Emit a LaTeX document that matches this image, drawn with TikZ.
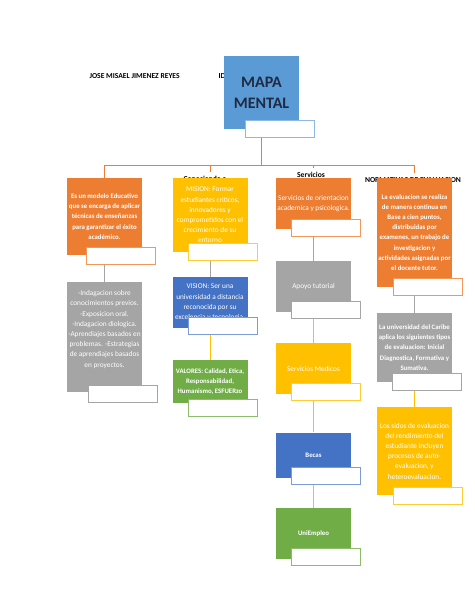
\documentclass[tikz,border=0pt]{standalone}
\usepackage{fontspec}
\setmainfont{Carlito}
\usetikzlibrary{positioning}
\definecolor{mporange}{HTML}{ED7D31}
\definecolor{mpyellow}{HTML}{FFC000}
\definecolor{mpblue}{HTML}{4472C4}
\definecolor{mpsky}{HTML}{5B9BD5}
\definecolor{mpgray}{HTML}{A5A5A5}
\definecolor{mpgreen}{HTML}{70AD47}
\definecolor{mpnavy}{HTML}{1F2A44}

\begin{document}
\begin{tikzpicture}[
  x=1pt, y=-1pt,
  box/.style={minimum width=75pt, inner sep=0pt, align=center, text=white, font=\fontsize{7.3}{10.2}\selectfont},
  bbox/.style={box, font=\fontsize{6.8}{10.2}\selectfont\bfseries},
  note/.style={draw, fill=white, line width=0.8pt, minimum width=69pt, minimum height=17pt, inner sep=0pt, anchor=north west},
  head/.style={anchor=base, font=\fontsize{7.6}{9}\selectfont\bfseries},
  olink/.style={draw=mporange, line width=0.8pt},
  glink/.style={draw=mpgray, line width=0.8pt},
  ylink/.style={draw=mpyellow, line width=0.8pt}
]
  \useasboundingbox[fill=white] (0,0) rectangle (474,613);

  % header
  \node[head, anchor=base west] (autor) at (86,78) {JOSE MISAEL JIMENEZ REYES};
  \node[head, anchor=base west] (ident) at (215,78) {ID};
  \node[fill=mpsky, minimum width=75pt, minimum height=73pt, align=center, text=mpnavy,
    font=\fontsize{16}{21}\selectfont\bfseries] (mapa) at (261.5,92.5) {MAPA\\MENTAL};
  \node[note, draw=mpsky!70] (mapan) at ([xshift=21pt,yshift=9pt]mapa.south west) {};

  % column titles
  \node[head] (tconoc) at (205,181) {Conociendo a};
  \node[head] (tserv) at (311,177) {Servicios};
  \node[head] (tnorm) at (413,182) {NORMATIVAS DE EVALUACION};

  % column 1
  \node[bbox, fill=mporange, minimum height=77pt] (modelo) at (104.5,216.5)
    {Es un modelo Educativo\\que se encarga de aplicar\\técnicas de enseñanzas\\para garantizar el éxito\\académico.};
  \node[note, draw=mporange!80] (modelon) at ([xshift=19pt,yshift=8pt]modelo.south west) {};
  \node[box, fill=mpgray, minimum height=110pt] (indaga) at (104.5,337)
    {-Indagacion sobre\\conocimientos previos.\\-Exposicion oral.\\-Indagacion diologica.\\-Aprendiajes basados en\\problemas. -Estrategias\\de aprendiajes basados\\en proyectos.\\[6pt]};
  \node[note, draw=mpgray] (indagan) at ([xshift=21pt,yshift=7pt]indaga.south west) {};

  % column 2
  \node[box, fill=mpyellow, minimum height=74pt] (mision) at (210,215)
    {MISION: Formar\\estudiantes criticos,\\innovadores y\\comprometidos con el\\crecimiento de su\\entorno};
  \node[note, draw=mpyellow!80] (misionn) at ([xshift=16pt,yshift=9pt]mision.south west) {};
  \node[box, fill=mpblue, minimum height=51pt] (vision) at (210,302.5)
    {VISION: Ser una\\universidad a distancia\\reconocida por su\\excelencia y tecnologia.};
  \node[note, draw=mpblue!70] (visionn) at ([xshift=16pt,yshift=11pt]vision.south west) {};
  \node[bbox, fill=mpgreen, minimum height=43pt] (valores) at (210,381.5)
    {VALORES: Calidad, Etica,\\Responsabilidad,\\Humanismo, ESFUERzo};
  \node[note, draw=mpgreen!80] (valoresn) at ([xshift=16pt,yshift=4pt]valores.south west) {};

  % column 3
  \node[box, fill=mporange, minimum height=51pt] (orienta) at (313.5,203.5)
    {Servicios de orientacion\\academica y psicologica.};
  \node[note, draw=mporange!80] (orientan) at ([xshift=15pt,yshift=10pt]orienta.south west) {};
  \node[box, fill=mpgray, minimum height=51pt] (apoyo) at (313.5,286.5) {Apoyo tutorial};
  \node[note, draw=mpgray] (apoyon) at ([xshift=15pt,yshift=11pt]apoyo.south west) {};
  \node[box, fill=mpyellow, minimum height=51pt] (medicos) at (313.5,368.5) {Servicios Medicos};
  \node[note, draw=mpyellow!80] (medicosn) at ([xshift=15pt,yshift=11pt]medicos.south west) {};
  \node[bbox, fill=mpblue, minimum height=45pt] (becas) at (313.5,455) {Becas};
  \node[note, draw=mpblue!70] (becasn) at ([xshift=15pt,yshift=11pt]becas.south west) {};
  \node[bbox, fill=mpgreen, minimum height=51pt] (empleo) at (313.5,533.5) {UniEmpleo};
  \node[note, draw=mpgreen!80] (empleon) at ([xshift=15pt,yshift=11pt]empleo.south west) {};

  % column 4
  \node[bbox, fill=mporange, minimum height=109pt] (evalua) at (414.5,232.5)
    {La evaluacion se realiza\\de manera continua en\\Base a cien puntos,\\distribuidas por\\examenes, un trabajo de\\investigacion y\\actividades asignadas por\\el docente tutor.};
  \node[note, draw=mporange!80] (evaluan) at ([xshift=16pt,yshift=9pt]evalua.south west) {};
  \node[bbox, fill=mpgray, minimum height=69pt] (caribe) at (414.5,347.5)
    {La universidad del Caribe\\aplica los siguientes tipos\\de evaluacion: Inicial\\Diagnostica, Formativa y\\Sumativa.};
  \node[note, draw=mpgray] (cariben) at ([xshift=15pt,yshift=9pt]caribe.south west) {};
  \node[box, fill=mpyellow, minimum height=88pt] (ciclos) at (414.5,451)
    {Los sidos de evaluacion\\del rendimiento del\\estudiante incluyen\\procesos de auto-\\evaluacion, y\\heteroevaluacion.};
  \node[note, draw=mpyellow!80] (ciclosn) at ([xshift=16pt,yshift=8pt]ciclos.south west) {};

  % connectors
  \coordinate (hub) at (261.5,165);
  \draw[olink] (mapa |- mapan.south) -- (hub);
  \draw[olink] (hub) -| (modelo);
  \draw[olink] (hub) -| (tconoc.north -| mision);
  \draw[olink] (hub) -| (orienta |- tserv.north);
  \draw[olink] (hub) -| (evalua |- tnorm.north);
  \draw[glink] (modelo |- modelon.south) -- (indaga);
  \draw[glink] (mision |- misionn.south) -- (vision);
  \draw[ylink] (vision |- visionn.south) -- (valores);
  \draw[glink] (orienta |- orientan.south) -- (apoyo);
  \draw[ylink] (apoyo |- apoyon.south) -- (medicos);
  \draw[ylink] (medicos |- medicosn.south) -- (becas);
  \draw[ylink] (becas |- becasn.south) -- (empleo);
  \draw[glink] (evalua |- evaluan.south) -- (caribe);
  \draw[ylink] (caribe |- cariben.south) -- (ciclos);
\end{tikzpicture}
\end{document}
